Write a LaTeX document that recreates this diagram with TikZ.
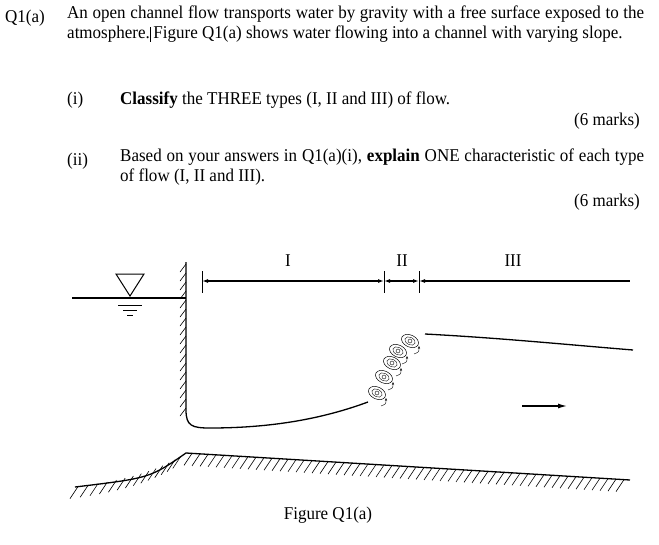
\documentclass[tikz,border=0pt]{standalone}
\usepackage{fontspec}
\setmainfont{Liberation Serif}[FakeStretch=0.945]
\usetikzlibrary{arrows.meta}
\begin{document}
\begin{tikzpicture}[x=1pt,y=-1pt,
  txt/.style={anchor=base west,inner sep=0pt,font=\fontsize{18}{20}\selectfont},
  para/.style={txt,text width=577pt,align=justify},
  hatch/.style={line width=0.6pt},
  thick1/.style={line width=1.3pt},
  dim/.style={line width=1.2pt,{Latex[length=6pt,width=4pt]}-{Latex[length=6pt,width=4pt]}}]
\useasboundingbox (0,0) rectangle (659,544);
% text
\node[txt] (q) at (5,22) {Q1(a)};
\node[para,anchor=north west] (p1) at (67,6) {An open channel flow transports water by gravity with a free surface exposed to the atmosphere.\rule[-3pt]{0.6pt}{15pt}\,Figure Q1(a) shows water flowing into a channel with varying slope.};
\node[txt] (i) at (67,104) {(i)};
\node[txt] (it) at (120,104) {\textbf{Classify} the THREE types (I, II and III) of flow.};
\node[txt,anchor=base east] (m1) at (640,125) {(6 marks)};
\node[txt] (ii) at (67,165) {(ii)};
\node[para,text width=524pt,anchor=north west] (iit) at (120,149) {Based on your answers in Q1(a)(i), \textbf{explain} ONE characteristic of each type of flow (I, II and III).};
\node[txt,anchor=base east] (m2) at (640,206) {(6 marks)};
% upstream reservoir
\draw[thick1] (72,298) -- (186,298);
\draw[line width=1pt] (116,274) -- (144,274) -- (130,296) -- cycle;
\draw[line width=0.9pt] (118,305) -- (142,305) (123,310) -- (137,310) (127,315) -- (133,315);
% wall
\draw[thick1] (186,262) -- (186,410) .. controls (186,426) and (192,428) .. (210,428)
  .. controls (280,428) and (330,416) .. (368,402);
\foreach \y in {264,273,...,408} \draw[hatch] (186,\y) -- (180,\y+8);
% jump eddies
\foreach \cx/\cy in {377/393, 384/377, 392/363, 398/351, 410/341} {
  \draw[line width=0.5pt,rotate around={-25:(\cx,\cy)}] (\cx,\cy) ellipse (9 and 6);
  \draw[line width=0.4pt,rotate around={-25:(\cx,\cy)}] (\cx,\cy) ellipse (5.5 and 3.8);
  \draw[line width=0.4pt] (\cx,\cy) circle (2);
  \draw[line width=0.4pt,-{Stealth[length=3pt]}] (\cx+4,\cy+13) .. controls (\cx+9,\cy+11) .. (\cx+9,\cy+5);
}
\draw[thick1] (425,334) .. controls (500,338) and (560,344) .. (633,350);
% flow arrow
\draw[line width=1.2pt,-{Latex[length=9pt,width=5pt]}] (522,406) -- (567,406);
% dimension line
\draw[line width=1pt] (202,271) -- (202,293) (384,271) -- (384,293) (419,271) -- (419,293);
\draw[dim] (202,281) -- (384,281);
\draw[dim] (384,281) -- (419,281);
\draw[line width=1.2pt,{Latex[length=6pt,width=4pt]}-] (419,281) -- (630,281);
\node[txt,anchor=base] (lI) at (288,266) {I};
\node[txt,anchor=base] (lII) at (402,266) {II};
\node[txt,anchor=base] (lIII) at (513,266) {III};
% bed
\draw[thick1] (75,487) .. controls (150,478) .. (186,453) -- (630,480);
\foreach \t in {0.02,0.09,...,0.99} {
  \pgfmathsetmacro\bx{(1-\t)^2*75+2*(1-\t)*\t*150+\t^2*186}
  \pgfmathsetmacro\by{(1-\t)^2*487+2*(1-\t)*\t*478+\t^2*453}
  \draw[hatch] (\bx,\by) -- (\bx-8,\by+12);
}
\foreach \x in {192,200,...,628} \draw[hatch] (\x,{453+(\x-186)*27/444}) -- (\x-8,{453+(\x-186)*27/444+12});
\node[txt,anchor=base] (cap) at (328,519) {Figure Q1(a)};
\end{tikzpicture}
\end{document}
